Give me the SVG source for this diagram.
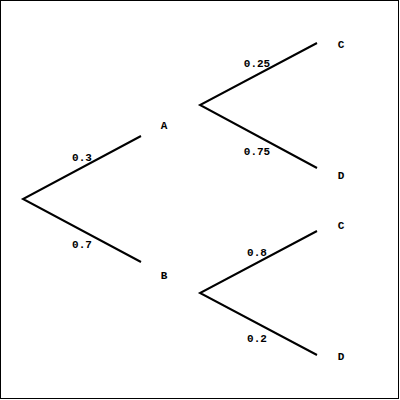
<svg xmlns="http://www.w3.org/2000/svg" width="400" height="400" viewBox="0 0 400 400">
<style>
.e{stroke:#000;stroke-width:2;fill:none}
.t{font-family:"Liberation Mono","DejaVu Sans Mono",monospace;font-size:11px;font-weight:bold;fill:#000}
</style>
<rect x="0.5" y="0.5" width="398" height="398" fill="#fff" stroke="#000" stroke-width="1"/>
<g id="connectors">
<polyline class="e" points="141,136 23,199 141,262"/>
<polyline class="e" points="317,43 200,105 317,168"/>
<polyline class="e" points="317,231 200,293 317,355"/>
</g>
<g id="edge-labels">
<text class="t" x="82" y="161" text-anchor="middle">0.3</text>
<text class="t" x="82" y="248" text-anchor="middle">0.7</text>
<text class="t" x="257" y="67" text-anchor="middle">0.25</text>
<text class="t" x="257" y="155" text-anchor="middle">0.75</text>
<text class="t" x="257" y="256" text-anchor="middle">0.8</text>
<text class="t" x="257" y="342" text-anchor="middle">0.2</text>
</g>
<g id="node-A"><text class="t" x="164" y="129" text-anchor="middle">A</text></g>
<g id="node-B"><text class="t" x="164" y="279" text-anchor="middle">B</text></g>
<g id="node-C1"><text class="t" x="341" y="48" text-anchor="middle">C</text></g>
<g id="node-D1"><text class="t" x="341" y="179" text-anchor="middle">D</text></g>
<g id="node-C2"><text class="t" x="341" y="229" text-anchor="middle">C</text></g>
<g id="node-D2"><text class="t" x="341" y="360" text-anchor="middle">D</text></g>
</svg>
